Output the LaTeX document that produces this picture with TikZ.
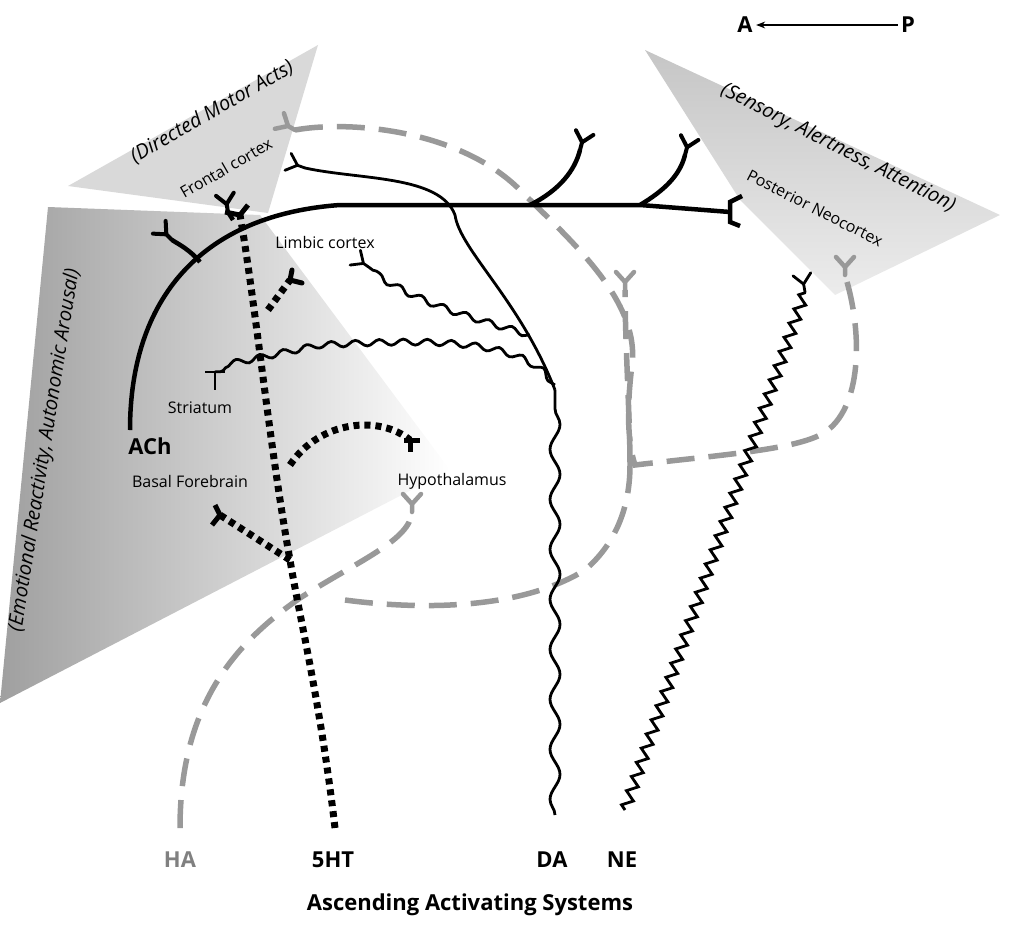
\documentclass[tikz,border=0pt]{standalone}
\usepackage{fontspec}
\setmainfont{Open Sans}
\usetikzlibrary{decorations.pathmorphing,arrows.meta}
\begin{document}
\begin{tikzpicture}[x=1pt,y=-1pt,
  ach/.style={line width=4.5pt,black},
  da/.style={line width=2.8pt,black},
  ht/.style={line width=7pt,black,dash pattern=on 6pt off 5pt},
  ha/.style={line width=5.5pt,gray!80,dash pattern=on 28pt off 14pt},
  lbl/.style={font=\fontsize{16}{18}\selectfont},
  it/.style={font=\fontsize{20}{22}\selectfont\itshape},
  big/.style={font=\fontsize{22}{24}\selectfont\bfseries},
  fork/.pic={\draw[line width=#1,line cap=round] (0,0)--(8,0) (8,0)--(18,-9) (8,0)--(18,9);}]
\useasboundingbox (0,0) rectangle (1011,931);
% wedges
\shade[left color=gray!75,right color=white] (48,207) -- (0,703) -- (450,470) -- (260,215) -- cycle;
\fill[gray!30] (68,186) -- (318,45) -- (268,213) -- cycle;
\shade[top color=gray!45,bottom color=gray!15] (645,50) -- (1000,215) -- (835,295) -- (740,200) -- cycle;
% labels in wedges
\node[rotate=30,it] (dma) at (212,112) {(Directed Motor Acts)};
\node[rotate=30,lbl] (fc) at (226,168) {Frontal cortex};
\node[rotate=-27,it] (saa) at (838,148) {(Sensory, Alertness, Attention)};
\node[rotate=-27,lbl] (pn) at (815,208) {Posterior Neocortex};
\node[rotate=81,it] (era) at (45,450) {(Emotional Reactivity, Autonomic Arousal)};
\node[lbl] (lc) at (325,242) {Limbic cortex};
\node[lbl] (st) at (200,408) {Striatum};
\node[big] (ach) at (150,446) {ACh};
\node[lbl] (bf) at (190,481) {Basal Forebrain};
\node[lbl] (hy) at (452,481) {Hypothalamus};
\node[big,text=gray] (haL) at (180,860) {HA};
\node[big] (htL) at (333,860) {5HT};
\node[big] (daL) at (552,860) {DA};
\node[big] (neL) at (622,860) {NE};
\node[big] (title) at (470,905) {Ascending Activating Systems};
\node[big] (A) at (745,25) {A};
\node[big] (P) at (908,25) {P};
\draw[-{Stealth[length=9pt]},line width=1.3pt] (P.west) -- (A.east);
% HA
\draw[ha] (180,828) .. controls (180,700) and (240,640) .. (300,598) .. controls (360,560) and (410,540) .. (412,512);
\draw[ha] (345,600) .. controls (420,610) and (520,610) .. (585,570) .. controls (620,540) and (630,500) .. (630,465);
\draw[ha] (295,130) .. controls (350,120) and (460,130) .. (520,190) .. controls (570,240) and (640,300) .. (632,365) .. controls (625,420) and (630,450) .. (635,465) .. controls (720,455) and (790,450) .. (820,435) .. controls (860,415) and (865,340) .. (845,275);
\draw[ha] (630,465) .. controls (630,420) and (625,340) .. (625,290);
\pic[rotate=90,gray!80] at (625,290) {fork=4.5pt};
\pic[rotate=90,gray!80] at (845,275) {fork=4.5pt};
\pic[rotate=90,gray!80] at (412,512) {fork=4.5pt};
\pic[rotate=150,gray!80] at (295,130) {fork=4.5pt};
% ACh
\draw[ach] (130,430) .. controls (130,300) and (200,215) .. (340,205) -- (640,205) -- (730,212);
\draw[ach] (200,262) .. controls (190,250) and (180,245) .. (172,240);
\pic[rotate=135] at (172,240) {fork=4pt};
\draw[ach] (233,220) -- (228,212);
\pic[rotate=100] at (228,212) {fork=4pt};
\draw[ach] (530,205) .. controls (560,190) and (575,170) .. (580,150);
\pic[rotate=75] at (580,150) {fork=4pt};
\draw[ach] (640,205) .. controls (665,190) and (680,175) .. (685,155);
\pic[rotate=75] at (685,155) {fork=4pt};
\draw[ach] (730,212) -- ++(0,-10) -- ++(12,-6) (730,212) -- ++(0,10) -- ++(10,4);
% DA
\draw[da,decorate,decoration={snake,amplitude=5pt,segment length=50pt}] (555,815) -- (555,390);
\draw[da] (555,390) .. controls (520,300) and (460,250) .. (455,215) .. controls (440,175) and (360,180) .. (305,168);
\pic[rotate=160] at (305,168) {fork=2.8pt};
\draw[da,decorate,decoration={snake,amplitude=3pt,segment length=24pt}] (530,335) .. controls (480,320) and (420,305) .. (370,268);
\pic[rotate=145] at (370,268) {fork=2.8pt};
\draw[da,decorate,decoration={snake,amplitude=3pt,segment length=24pt}] (555,385) .. controls (520,340) and (420,345) .. (320,350) -- (215,372);
\draw[da] (215,372) -- (215,390) (205,372) -- (225,372);
% NE
\draw[da,decorate,decoration={zigzag,amplitude=5pt,segment length=15pt}] (625,810) -- (805,292);
\pic[rotate=100] at (805,292) {fork=2.8pt};
% 5HT
\draw[ht] (335,828) .. controls (320,700) and (300,620) .. (290,560) .. controls (270,450) and (255,300) .. (240,215);
\draw[ht] (268,310) -- (290,280);
\draw[line width=5pt,line cap=round] (290,280) -- (292,270) (290,280) -- (302,283);
\draw[ht] (290,465) .. controls (320,420) and (380,415) .. (410,440);
\draw[line width=5pt] (410,440) -- (410,452) (404,440) -- (420,440);
\draw[ht] (290,560) -- (220,515);
\draw[line width=5pt] (220,515) -- (212,525) (220,515) -- (215,505);
\draw[line width=5pt] (240,215) -- (225,212) (240,215) -- (248,205);
\end{tikzpicture}
\end{document}
